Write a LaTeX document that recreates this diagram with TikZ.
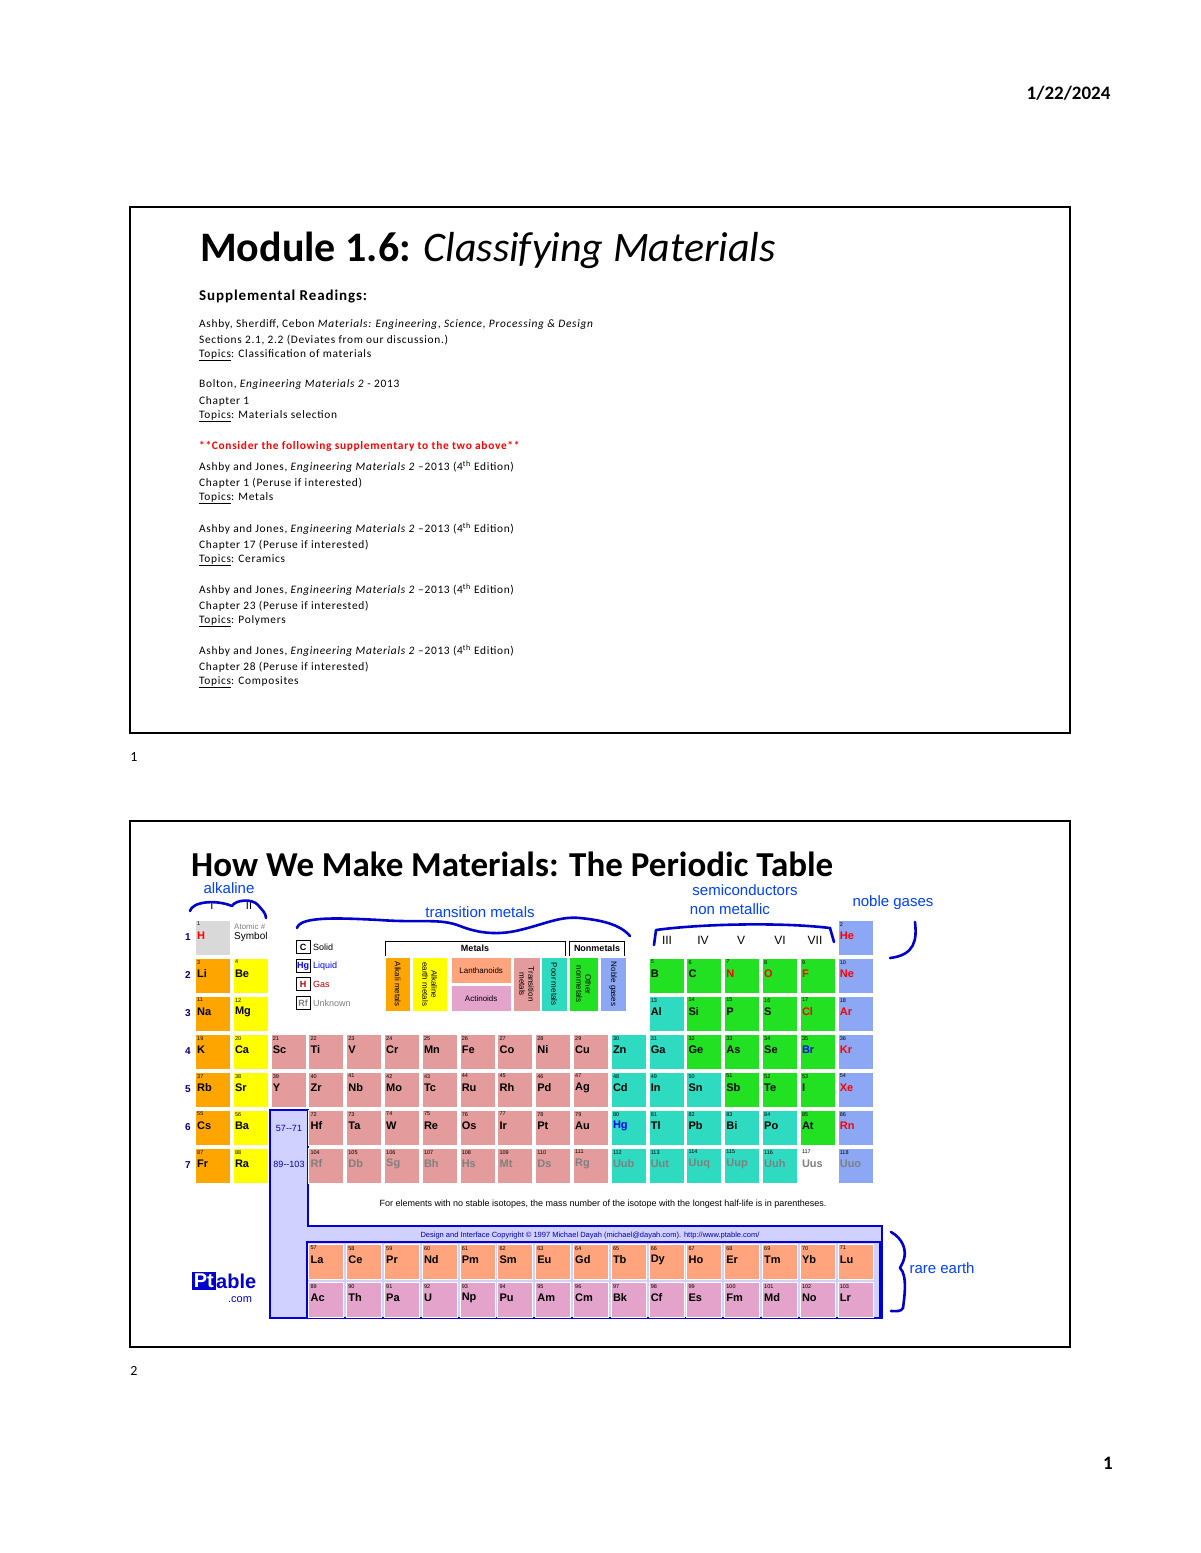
\documentclass[tikz,border=0pt]{standalone}
\usepackage{fontspec}
\setmainfont{Carlito}
\newfontfamily\spaced[LetterSpace=6]{Carlito}
\newfontfamily\arial{Liberation Sans}
\definecolor{alc}{HTML}{FFA500}
\definecolor{aec}{HTML}{FFFF00}
\definecolor{tmc}{HTML}{E39B9B}
\definecolor{pmc}{HTML}{2EDBC0}
\definecolor{nmc}{HTML}{22E022}
\definecolor{ngc}{HTML}{8CA8F5}
\definecolor{lnc}{HTML}{FFA47C}
\definecolor{acc}{HTML}{E3A3CB}
\begin{document}
\begin{tikzpicture}[x=1pt,y=-1pt,
  frame/.style={draw=black,line width=1.6pt},
  txt/.style={anchor=west,inner sep=0,font=\spaced\fontsize{11.4}{12}\selectfont},
  cell/.style={anchor=north west,minimum width=35,minimum height=35,inner sep=0,draw=white},
  al/.style={fill=alc}, ae/.style={fill=aec}, tm/.style={fill=tmc},
  pm/.style={fill=pmc}, nm/.style={fill=nmc}, ng/.style={fill=ngc},
  hy/.style={fill=black!15}, ln/.style={fill=lnc}, ac/.style={fill=acc}, un/.style={fill=white},
  anno/.style={text=blue!75!cyan,font=\arial\fontsize{15}{17}\selectfont},
  pen/.style={draw=blue!80!black,line width=2.6pt,line cap=round,line join=round},
  rn/.style={font=\arial\bfseries\fontsize{10}{12}\selectfont,text=blue!50!black}]
\useasboundingbox (0,0) rectangle (1200,1553);
\fill[white] (0,0) rectangle (1200,1553);
\node[font=\fontsize{19}{22}\selectfont\bfseries,anchor=east] (date) at (1114,93) {1/22/2024};
\node[font=\fontsize{14}{16}\selectfont] (p1) at (134,757) {1};
\node[font=\fontsize{14}{16}\selectfont] (p2) at (134,1371) {2};
\node[font=\fontsize{19}{22}\selectfont\bfseries] (pg) at (1108,1463) {1};
% slide 1
\draw[frame] (130,207) rectangle (1070,733);
\node[anchor=west,inner sep=0,font=\fontsize{42}{46}\selectfont] (t1) at (200,250) {\textbf{Module 1.6:} \textit{Classifying Materials}};
\node[txt,font=\spaced\fontsize{15}{16}\selectfont\bfseries] (s0) at (199,297) {Supplemental Readings:};
\node[txt] (s1) at (199,325) {Ashby, Sherdiff, Cebon \textit{Materials: Engineering, Science, Processing \& Design}};
\node[txt] (s2) at (199,340) {Sections 2.1, 2.2 (Deviates from our discussion.)};
\node[txt] (s3) at (199,355) {\underline{Topics}: Classification of materials};
\node[txt] (s4) at (199,385) {Bolton, \textit{Engineering Materials 2} - 2013};
\node[txt] (s5) at (199,401) {Chapter 1};
\node[txt] (s6) at (199,416) {\underline{Topics}: Materials selection};
\node[txt,text=red,font=\spaced\fontsize{11.4}{12}\selectfont\bfseries] (s7) at (199,446) {**Consider the following supplementary to the two above**};
\foreach \y/\ch/\tp in {467/1/Metals,529/17/Ceramics,590/23/Polymers,651/28/Composites}{
  \node[txt] (a\ch) at (199,\y) {Ashby and Jones, \textit{Engineering Materials 2} \textendash 2013 (4\textsuperscript{th} Edition)};
  \node[txt] (b\ch) at (199,\y+16) {Chapter \ch\ (Peruse if interested)};
  \node[txt] (c\ch) at (199,\y+31) {\underline{Topics}: \tp};
}
% slide 2
\draw[frame] (130,821) rectangle (1070,1347);
\node[anchor=west,inner sep=0,font=\fontsize{35}{38}\selectfont\bfseries] (t2) at (191,864) {How We Make Materials: The Periodic Table};
% L-shaped f-block band
\fill[blue!18!white] (270,1110) -- (308,1110) -- (308,1226) -- (882,1226) -- (882,1318) -- (270,1318) -- cycle;
\draw[blue!85!black,line width=2.5pt] (270,1110) -- (308,1110) -- (308,1226) -- (882,1226) -- (882,1318) -- (270,1318) -- cycle;
\draw[blue!85!black,line width=1.8pt] (307,1242) rectangle (880,1318);
\node[text=blue!70!black,font=\arial\fontsize{9}{10}\selectfont] (r67) at (289,1128) {57--71};
\node[text=blue!70!black,font=\arial\fontsize{9}{10}\selectfont] (r89) at (289,1164) {89--103};
\node[text=blue!70!black,font=\arial\fontsize{7.5}{9}\selectfont] (copy) at (590,1236) {Design and Interface Copyright \textcopyright\ 1997 Michael Dayah (michael@dayah.com). http://www.ptable.com/};
\node[font=\arial\fontsize{9}{10}\selectfont] (foot) at (603,1204) {For elements with no stable isotopes, the mass number of the isotope with the longest half-life is in parentheses.};
% elements
\newcommand\el[6]{\node[cell,#5] (e#3) at ({195+(#1-1)*37.8},{920+(#2-1)*38}) {};
  \node[anchor=north west,inner sep=0,font=\arial\fontsize{5.5}{6}\selectfont] at ([shift={(2,2)}]e#3.north west) {#3};
  \node[anchor=west,inner sep=0,font=\arial\bfseries\fontsize{11}{12}\selectfont,text=#6] at ([shift={(2,-2)}]e#3.west) {#4};}
\foreach \c/\r/\n/\s/\k/\t in {
 1/1/1/H/hy/red, 18/1/2/He/ng/red,
 1/2/3/Li/al/black, 2/2/4/Be/ae/black, 13/2/5/B/nm/black, 14/2/6/C/nm/black, 15/2/7/N/nm/red, 16/2/8/O/nm/red, 17/2/9/F/nm/red, 18/2/10/Ne/ng/red,
 1/3/11/Na/al/black, 2/3/12/Mg/ae/black, 13/3/13/Al/pm/black, 14/3/14/Si/nm/black, 15/3/15/P/nm/black, 16/3/16/S/nm/black, 17/3/17/Cl/nm/red, 18/3/18/Ar/ng/red,
 1/4/19/K/al/black, 2/4/20/Ca/ae/black, 3/4/21/Sc/tm/black, 4/4/22/Ti/tm/black, 5/4/23/V/tm/black, 6/4/24/Cr/tm/black, 7/4/25/Mn/tm/black, 8/4/26/Fe/tm/black, 9/4/27/Co/tm/black, 10/4/28/Ni/tm/black, 11/4/29/Cu/tm/black, 12/4/30/Zn/pm/black, 13/4/31/Ga/pm/black, 14/4/32/Ge/nm/black, 15/4/33/As/nm/black, 16/4/34/Se/nm/black, 17/4/35/Br/nm/blue, 18/4/36/Kr/ng/red,
 1/5/37/Rb/al/black, 2/5/38/Sr/ae/black, 3/5/39/Y/tm/black, 4/5/40/Zr/tm/black, 5/5/41/Nb/tm/black, 6/5/42/Mo/tm/black, 7/5/43/Tc/tm/black, 8/5/44/Ru/tm/black, 9/5/45/Rh/tm/black, 10/5/46/Pd/tm/black, 11/5/47/Ag/tm/black, 12/5/48/Cd/pm/black, 13/5/49/In/pm/black, 14/5/50/Sn/pm/black, 15/5/51/Sb/nm/black, 16/5/52/Te/nm/black, 17/5/53/I/nm/black, 18/5/54/Xe/ng/red,
 1/6/55/Cs/al/black, 2/6/56/Ba/ae/black, 4/6/72/Hf/tm/black, 5/6/73/Ta/tm/black, 6/6/74/W/tm/black, 7/6/75/Re/tm/black, 8/6/76/Os/tm/black, 9/6/77/Ir/tm/black, 10/6/78/Pt/tm/black, 11/6/79/Au/tm/black, 12/6/80/Hg/pm/blue, 13/6/81/Tl/pm/black, 14/6/82/Pb/pm/black, 15/6/83/Bi/pm/black, 16/6/84/Po/pm/black, 17/6/85/At/nm/black, 18/6/86/Rn/ng/red,
 1/7/87/Fr/al/black, 2/7/88/Ra/ae/black, 4/7/104/Rf/tm/gray, 5/7/105/Db/tm/gray, 6/7/106/Sg/tm/gray, 7/7/107/Bh/tm/gray, 8/7/108/Hs/tm/gray, 9/7/109/Mt/tm/gray, 10/7/110/Ds/tm/gray, 11/7/111/Rg/tm/gray, 12/7/112/Uub/pm/gray, 13/7/113/Uut/pm/gray, 14/7/114/Uuq/pm/gray, 15/7/115/Uup/pm/gray, 16/7/116/Uuh/pm/gray, 17/7/117/Uus/un/gray, 18/7/118/Uuo/ng/gray}
 {\el{\c}{\r}{\n}{\s}{\k}{\t}}
\foreach \s [count=\i from 0] in {La,Ce,Pr,Nd,Pm,Sm,Eu,Gd,Tb,Dy,Ho,Er,Tm,Yb,Lu}{
  \pgfmathtruncatemacro\n{57+\i}\el{\i+4}{9.526}{\n}{\s}{ln}{black}}
\foreach \s [count=\i from 0] in {Ac,Th,Pa,U,Np,Pu,Am,Cm,Bk,Cf,Es,Fm,Md,No,Lr}{
  \pgfmathtruncatemacro\n{89+\i}\el{\i+4}{10.526}{\n}{\s}{ac}{black}}
% period numbers and groups
\foreach \r in {1,...,7}{\node[rn] (pr\r) at (188,{937+(\r-1)*38}) {\r};}
\node[font=\arial\fontsize{11}{12}\selectfont] (g1) at (212,906) {I};
\node[font=\arial\fontsize{11}{12}\selectfont] (g2) at (249,906) {II};
\foreach \g/\x in {III/667,IV/703,V/741,VI/780,VII/815}{\node[font=\arial\fontsize{12}{13}\selectfont] (g\g) at (\x,940) {\g};}
\node[anchor=north west,inner sep=0,font=\arial\fontsize{8}{9}\selectfont,text=gray] (key) at (234,923) {Atomic \#};
\node[anchor=north west,inner sep=0,font=\arial\fontsize{10}{11}\selectfont] (keys) at (234,932) {Symbol};
% state legend
\foreach \y/\s/\l/\c in {947/C/Solid/black,966/Hg/Liquid/blue,984/H/Gas/red!70!black,1003/Rf/Unknown/gray}{
  \node[draw=black,minimum width=14,minimum height=13,inner sep=0,text=\c,font=\arial\bfseries\fontsize{9}{10}\selectfont] (st\s) at (303,\y) {\s};
  \node[anchor=west,inner sep=0,text=\c,font=\arial\fontsize{9}{10}\selectfont] (sl\s) at (313,\y) {\l};}
% category legend
\draw[line width=1pt] (385,956) -- (385,941) -- (565,941) -- (565,956);
\draw[line width=1pt] (569,956) -- (569,941) -- (624,941) -- (624,956);
\node[font=\arial\bfseries\fontsize{9}{10}\selectfont] (hm) at (475,948) {Metals};
\node[font=\arial\bfseries\fontsize{9}{10}\selectfont] (hn) at (597,948) {Nonmetals};
\tikzset{leg/.style={anchor=north west,inner sep=0,draw=white},lt/.style={font=\arial\fontsize{8}{9}\selectfont,rotate=-90}}
\node[leg,al,minimum width=25,minimum height=54] (lal) at (385,957) {}; \node[lt] at (lal) {Alkali metals};
\node[leg,ae,minimum width=35,minimum height=54] (lae) at (412,957) {}; \node[lt,align=center] at (lae) {Alkaline\\earth metals};
\node[leg,ln,minimum width=60,minimum height=26] (lln) at (451,957) {}; \node[font=\arial\fontsize{8}{9}\selectfont] at (lln) {Lanthanoids};
\node[leg,ac,minimum width=60,minimum height=26] (lac) at (451,985) {}; \node[font=\arial\fontsize{8}{9}\selectfont] at (lac) {Actinoids};
\node[leg,tm,minimum width=27,minimum height=54] (ltm) at (513,957) {}; \node[lt,align=center] at (ltm) {Transition\\metals};
\node[leg,pm,minimum width=26,minimum height=54] (lpm) at (541,957) {}; \node[lt] at (lpm) {Poor metals};
\node[leg,nm,minimum width=29,minimum height=54] (lnm) at (569,957) {}; \node[lt,align=center] at (lnm) {Other\\nonmetals};
\node[leg,ng,minimum width=26,minimum height=54] (lng) at (600,957) {}; \node[lt] at (lng) {Noble gases};
% logo
\node[fill=blue!80!black,text=white,font=\arial\bfseries\fontsize{20}{22}\selectfont,inner sep=2,anchor=east] (logo) at (216,1281) {Pt};
\node[anchor=west,inner sep=0,font=\arial\bfseries\fontsize{20}{22}\selectfont,text=blue!80!black] (logo2) at (216,1281) {able};
\node[font=\arial\fontsize{11}{12}\selectfont,text=blue!80!black] (logo3) at (240,1300) {.com};
% annotations
\node[anno] (aal) at (229,888) {alkaline};
\node[anno] (atm) at (480,912) {transition metals};
\node[anno] (asc) at (745,890) {semiconductors};
\node[anno] (anm) at (730,909) {non metallic};
\node[anno] (ang) at (893,903) {noble gases};
\node[anno,anchor=west] (are) at (906,1268) {rare earth};
\draw[pen] (190,911) .. controls (192,902) and (215,899) .. (232,906) .. controls (235,900) and (252,898) .. (258,905) .. controls (262,910) and (266,913) .. (266,918);
\draw[pen] (297,928) .. controls (300,916) and (340,918) .. (380,920) .. controls (420,923) and (440,918) .. (460,926) .. controls (480,934) and (500,935) .. (520,930) .. controls (545,924) and (560,916) .. (580,918) .. controls (600,920) and (620,924) .. (630,936);
\draw[pen] (654,945) -- (656,930) .. controls (700,924) and (780,922) .. (830,928) -- (834,942);
\draw[pen] (915,922) .. controls (917,940) and (915,955) .. (890,958);
\draw[pen] (891,1232) .. controls (902,1238) and (908,1250) .. (903,1262) -- (900,1268) .. controls (908,1275) and (904,1300) .. (903,1308) .. controls (901,1312) and (896,1311) .. (891,1311);
\end{tikzpicture}
\end{document}
